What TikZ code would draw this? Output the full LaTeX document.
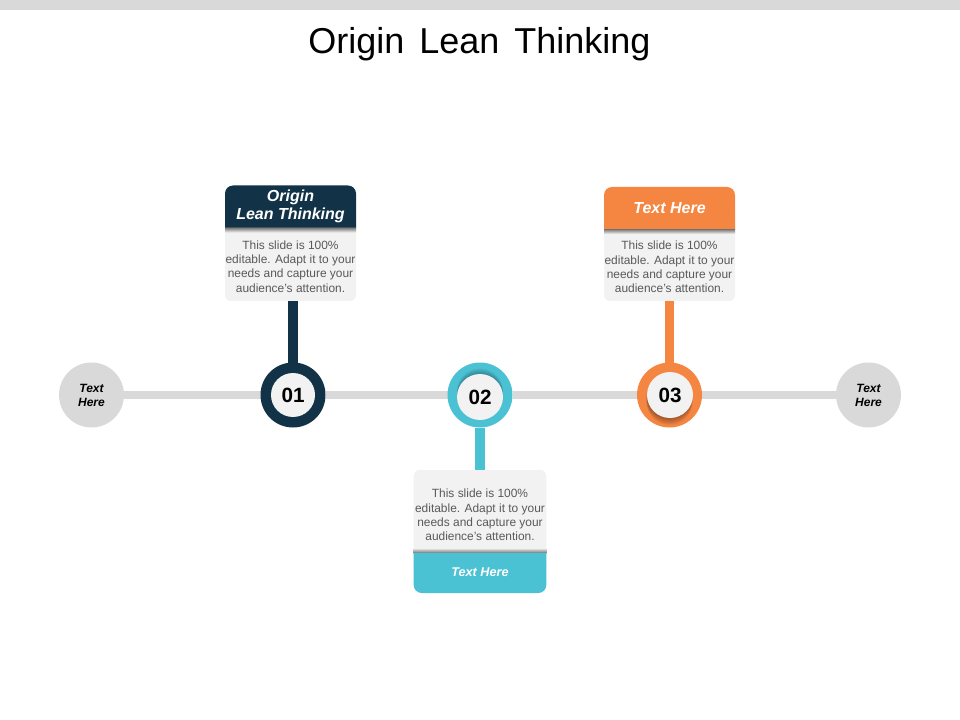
\documentclass[tikz,border=0pt]{standalone}
\usepackage{fontspec}
\setmainfont{Liberation Sans}
\newfontfamily\titlefont[WordSpace=1.5]{Liberation Sans}
\usetikzlibrary{calc}
\definecolor{navy}{HTML}{123347}
\definecolor{teal2}{HTML}{4BC1D4}
\definecolor{orng}{HTML}{F58642}
\definecolor{lgray}{HTML}{D9D9D9}
\definecolor{pale}{HTML}{F2F2F2}
\definecolor{bodytxt}{HTML}{595959}
\pgfdeclarelayer{lines}
\pgfdeclarelayer{fills}
\pgfsetlayers{lines,fills,main}
\tikzset{
  x=0.75pt,y=-0.75pt,
  endcircle/.style={circle,fill=lgray,minimum size=48.75pt,inner sep=0pt,outer sep=0pt,align=center,font=\fontsize{9}{10.6}\selectfont\bfseries\itshape,text=black},
  ring/.style={circle,fill=#1,minimum size=48.75pt,inner sep=0pt,outer sep=0pt},
  hub/.style={circle,fill=pale,minimum size=#1,inner sep=0pt,outer sep=0pt,font=\fontsize{15.5}{18}\selectfont\bfseries,text=black},
  bodybox/.style={minimum width=98.25pt,minimum height=#1,inner sep=0pt,outer sep=0pt,align=center,text=bodytxt,font=\fontsize{8.95}{10.7}\selectfont},
  headbox/.style={minimum width=98.25pt,minimum height=31.5pt,inner sep=0pt,outer sep=0pt,align=center,text=white,font=\fontsize{#1}{13.5}\selectfont\bfseries\itshape},
  axisline/.style={draw=lgray,line width=6pt},
  stem/.style={draw=#1,line width=7pt},
}
\begin{document}
\begin{tikzpicture}
\useasboundingbox (0,0) rectangle (960,720);
\fill[lgray] (0,0) rectangle (960,10);
\node[font=\titlefont\fontsize{27}{32}\selectfont,text=black,inner sep=0pt] (title) at (479.5,44) {Origin Lean Thinking};

% end circles
\node[endcircle] (e1) at (91.5,395) {Text\\Here};
\node[endcircle] (e2) at (868.5,395) {Text\\Here};

% hubs
\node[ring=navy] (r1) at (293,395) {};
\node[hub=33pt] (c1) at (293,395) {01};

\node[ring=teal2] (r2) at (480,395) {};
\foreach \s in {0.5,1.5,2.5,3.5,4.5,5.5}{
  \fill[black,opacity=0.05] ($(r2)+(0,2-\s)$) circle[radius=17.25pt];
}
\node[hub=34.5pt] (c2) at (480,397) {02};

\node[ring=orng] (r3) at (669.5,395) {};
\foreach \s in {1,2,3,4,5,6,7}{
  \fill[black,opacity=0.05] ($(r3)+(0,\s)$) circle[radius=17.25pt];
}
\node[hub=34.5pt] (c3) at (670,395) {03};

% boxes
\node[headbox=12] (h1) at (290.5,206.5) {Origin\\Lean Thinking};
\node[bodybox=51.75pt] (b1) at (290.5,266.5) {This slide is 100\%\\editable. Adapt it to your\\needs and capture your\\audience's attention.};
\node[headbox=12] (h3) at (669.5,208) {Text Here};
\node[bodybox=51pt] (b3) at (669.5,267) {This slide is 100\%\\editable. Adapt it to your\\needs and capture your\\audience's attention.};
\node[bodybox=67.5pt,minimum width=99.5pt] (b2) at (480,515) {This slide is 100\%\\editable. Adapt it to your\\needs and capture your\\audience's attention.};
\node[headbox=9.5,minimum width=99.5pt] (h2) at (480,572) {Text Here};

\begin{pgfonlayer}{fills}
  % body panels
  \fill[pale,rounded corners=4.5pt] (h1.center -| b1.west) rectangle (b1.south east);
  \fill[pale,rounded corners=4.5pt] (h3.center -| b3.west) rectangle (b3.south east);
  \fill[pale,rounded corners=4.5pt] (b2.north west) rectangle (h2.center -| b2.east);
  % soft shadows
  \shade[top color=black!55,bottom color=pale] (h1.south west) rectangle ($(h1.south east)+(0,5)$);
  \shade[top color=black!55,bottom color=pale] (h3.south west) rectangle ($(h3.south east)+(0,5)$);
  \shade[bottom color=black!55,top color=pale] ($(h2.north west)+(0,-3)$) rectangle ($(h2.north east)+(0,2)$);
  % header panels
  \fill[navy] (h1.south west) [rounded corners=6pt] -- (h1.north west) -- (h1.north east) [sharp corners] -- (h1.south east) -- cycle;
  \fill[orng] (h3.south west) [rounded corners=6pt] -- (h3.north west) -- (h3.north east) [sharp corners] -- (h3.south east) -- cycle;
  \fill[teal2] ($(h2.north west)+(0,2)$) [rounded corners=6pt] -- (h2.south west) -- (h2.south east) [sharp corners] -- ($(h2.north east)+(0,2)$) -- cycle;
\end{pgfonlayer}

\begin{pgfonlayer}{lines}
  \draw[axisline] (e1) -- (r1);
  \draw[axisline] (r1) -- (r2);
  \draw[axisline] (r2) -- (r3);
  \draw[axisline] (r3) -- (e2);
  \draw[stem=navy] (b1.south -| r1) -- (r1);
  \draw[stem=teal2] (r2) -- (b2.north -| r2);
  \draw[stem=orng] (b3.south -| r3) -- (r3);
\end{pgfonlayer}
\end{tikzpicture}
\end{document}
